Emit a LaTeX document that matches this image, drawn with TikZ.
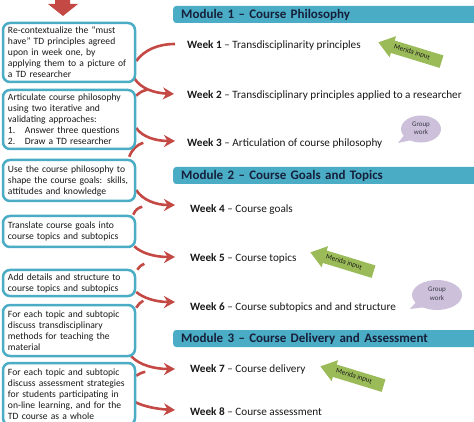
\documentclass[tikz,border=0pt]{standalone}
\usepackage{fontspec}
\setmainfont{Carlito}
\usetikzlibrary{calc,arrows.meta}
\definecolor{teal1}{RGB}{75,172,198}
\definecolor{redc}{RGB}{196,72,68}
\definecolor{greenc}{RGB}{155,187,89}
\definecolor{lav}{RGB}{204,192,218}
\definecolor{navy}{RGB}{22,32,58}
\definecolor{txt}{RGB}{25,25,25}
\definecolor{gtxt}{RGB}{60,60,72}
\pgfdeclarelayer{bg}
\pgfsetlayers{bg,main}
\begin{document}
\begin{tikzpicture}[x=1pt,y=-1pt,
  box/.style={draw=teal1, line width=2.5pt, fill=white, rounded corners=7pt, minimum width=132pt, text width=122pt, inner xsep=4pt, inner ysep=2pt, align=left, font=\fontsize{9.6}{11}\selectfont, text=txt},
  modbar/.style={fill=teal1, rounded corners=3pt, anchor=west, minimum height=17pt, text width=290pt, inner xsep=8pt, inner ysep=0pt, align=left, font=\fontsize{13}{14}\selectfont\bfseries, text=navy},
  week/.style={anchor=west, inner sep=0pt, font=\fontsize{11.2}{13}\selectfont, text=txt},
  conn/.style={draw=redc, line width=2.6pt},
  connarrow/.style={conn, -{Stealth[length=11pt,width=12pt,inset=3.5pt]}},
  merida/.style={font=\fontsize{7}{8}\selectfont, text=txt, inner sep=0pt, rotate=-17},
  group/.style={font=\fontsize{7}{8.5}\selectfont, text=gtxt, align=center, inner sep=0pt}
]
\useasboundingbox (0,0) rectangle (474,422);
\clip (0,0) rectangle (474,422);

% top red block arrow
\fill[redc] (55,-2) -- (70,-2) -- (70,4) -- (78,4) -- (63,16) -- (48,4) -- (55,4) -- cycle;

% left boxes
\node[box, minimum height=59pt] (b1) at (69,52.5) {Re-contextualize the “must\\have” TD principles agreed\\upon in week one, by\\applying them to a picture of\\a TD researcher};
\node[box, minimum height=59pt] (b2) at (69,119.5) {Articulate course philosophy\\using two iterative and\\validating approaches:\\\makebox[17pt][l]{1.}Answer three questions\\\makebox[17pt][l]{2.}Draw a TD researcher};
\node[box, minimum height=41pt] (b3) at (69,180.5) {Use the course philosophy to\\shape the course goals: skills,\\attitudes and knowledge};
\node[box, minimum height=31pt] (b4) at (69,231.5) {Translate course goals into\\course topics and subtopics};
\node[box, minimum height=26pt] (b5) at (69,283) {Add details and structure to\\course topics and subtopics};
\node[box, minimum height=51pt] (b6) at (69,330.5) {For each topic and subtopic\\discuss transdisciplinary\\methods for teaching the\\material};
\node[box, minimum height=62pt] (b7) at (69,394) {For each topic and subtopic\\discuss assessment strategies\\for students participating in\\on-line learning, and for the\\TD course as a whole};

% module bars
\node[modbar] (m1) at (173,14.5) {Module 1 – Course Philosophy};
\node[modbar] (m2) at (173,175.5) {Module 2 – Course Goals and Topics};
\node[modbar] (m3) at (173,338.5) {Module 3 – Course Delivery and Assessment};

% weeks
\node[week] (w1) at (187,45) {\textbf{Week 1} – Transdisciplinarity principles};
\node[week] (w2) at (187,95) {\textbf{Week 2} – Transdisciplinary principles applied to a researcher};
\node[week] (w3) at (187,143) {\textbf{Week 3} – Articulation of course philosophy};
\node[week] (w4) at (190,210) {\textbf{Week 4} – Course goals};
\node[week] (w5) at (190,258) {\textbf{Week 5} – Course topics};
\node[week] (w6) at (190,307) {\textbf{Week 6} – Course subtopics and and structure};
\node[week] (w7) at (190,369) {\textbf{Week 7} – Course delivery};
\node[week] (w8) at (190,412) {\textbf{Week 8} – Course assessment};

% red connectors
\begin{pgfonlayer}{bg}
\draw[conn] ($(b1.east)+(0,8.5)$) .. controls ($(b1.east)+(8,-2.5)$) and ($(w1.west)+(-29,-1)$) .. ($(w1.west)+(-12,-1)$);
\draw[connarrow] ($(b1.south east)+(-2,-5)$) .. controls ($(b1.south east)+(5,6)$) and ($(w2.west)+(-32,-2)$) .. ($(w2.west)+(-13,-1)$);
\draw[conn] ($(b2.north east)+(0,7)$) .. controls ($(b2.north east)+(3,4)$) and ($(b2.north east)+(6,2)$) .. ($(b2.north east)+(11,1)$);
\draw[connarrow] ($(b2.east)+(0,8.5)$) .. controls ($(b2.east)+(6,17.5)$) and ($(w3.west)+(-31,-2)$) .. ($(w3.west)+(-12,-2)$);
\draw[conn] ($(b3.north east)+(-7,-2)$) .. controls ($(b3.north east)+(-4,-10)$) and ($(b3.north east)+(1,-14)$) .. ($(b3.north east)+(7,-16)$);
\draw[connarrow] ($(b3.east)+(0,9.5)$) .. controls ($(b3.east)+(6,19.5)$) and ($(w4.west)+(-34,-5)$) .. ($(w4.west)+(-15,-5)$);
\draw[conn] ($(b4.north east)+(-3,0)$) .. controls ($(b4.north east)+(-1,-5)$) and ($(b4.north east)+(2,-7)$) .. ($(b4.north east)+(6,-8)$);
\draw[connarrow] ($(b4.south east)+(-2,-2)$) .. controls ($(b4.south east)+(5,5)$) and ($(w5.west)+(-35,-1)$) .. ($(w5.west)+(-15,-1)$);
\draw[conn] ($(b5.north east)+(1,1)$) .. controls ($(b5.north east)+(3,-2)$) and ($(b5.north east)+(5,-4)$) .. ($(b5.north east)+(8,-5)$);
\draw[connarrow] ($(b5.east)+(0,9)$) .. controls ($(b5.east)+(7,15)$) and ($(w6.west)+(-34,-5)$) .. ($(w6.west)+(-15,-5)$);
\draw[conn] ($(b6.north east)+(0,4)$) .. controls ($(b6.north east)+(2,1)$) and ($(b6.north east)+(4,-2)$) .. ($(b6.north east)+(7,-3)$);
\draw[connarrow] ($(b6.south east)+(-5,-1)$) .. controls ($(b6.south east)+(3,8)$) and ($(w7.west)+(-35,0)$) .. ($(w7.west)+(-15,0)$);
\draw[conn] ($(b7.north east)+(0,14)$) .. controls ($(b7.north east)+(3,12)$) and ($(b7.north east)+(5,11)$) .. ($(b7.north east)+(9,10)$);
\draw[connarrow] ($(b7.east)+(-1,8)$) .. controls ($(b7.east)+(6,12)$) and ($(w8.west)+(-34,-3)$) .. ($(w8.west)+(-15,-2)$);
\end{pgfonlayer}

% Merida input arrows
\foreach \cx/\cy/\nm in {410/52/mi1, 342/262/mi2, 352/376/mi3}{
  \begin{scope}[shift={(\cx,\cy)}, rotate=-17]
    \fill[greenc] (-33,0) -- (-18,-11) -- (-18,-6.5) -- (33,-6.5) -- (33,6.5) -- (-18,6.5) -- (-18,11) -- cycle;
  \end{scope}
  \node[merida] (\nm) at (\cx+2,\cy+0.5) {Merida input};
}

% Group work bubbles
\fill[lav] (421,129) ellipse [x radius=20pt, y radius=13.5pt];
\fill[lav] (405,134) -- (398,143) -- (412,140) -- cycle;
\node[group] (g1) at (421,128.5) {Group\\work};
\fill[lav] (437,295) ellipse [x radius=25pt, y radius=15pt];
\fill[lav] (418,300) -- (410,309) -- (426,307) -- cycle;
\node[group] (g2) at (437,294) {Group\\work};
\end{tikzpicture}
\end{document}
